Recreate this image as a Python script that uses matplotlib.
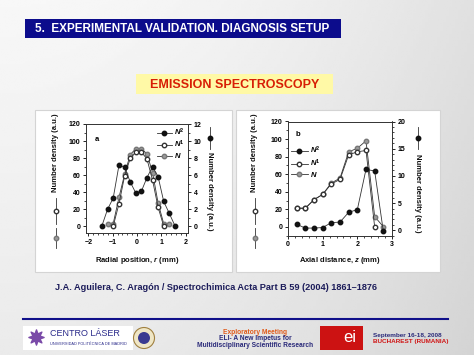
import numpy as np
import matplotlib
matplotlib.use('Agg')
import matplotlib.pyplot as plt
from matplotlib.patches import Rectangle, Circle
from matplotlib.ticker import MultipleLocator

plt.rcParams['font.family'] = ['Liberation Sans', 'DejaVu Sans']
plt.rcParams['mathtext.fontset'] = 'custom'
plt.rcParams['mathtext.rm'] = 'Liberation Sans:bold'
plt.rcParams['mathtext.it'] = 'Liberation Sans:italic:bold'

W, H = 474, 355

# panel a: radial profiles (N2 on right axis)
r_n2 = [-1.45, -1.21, -0.98, -0.74, -0.51, -0.28, -0.05, 0.18, 0.41, 0.64, 0.87, 1.10, 1.33, 1.57]
n2_a = [0, 2.0, 3.3, 7.2, 6.9, 5.2, 3.9, 4.1, 5.7, 7.0, 5.8, 2.9, 1.5, 0]
r_n1 = [-0.98, -0.74, -0.51, -0.28, -0.05, 0.18, 0.41, 0.64, 0.87, 1.10]
n1_a = [0, 26.5, 59, 79.5, 87, 87, 79, 54, 22, 0]
r_n0 = [-1.21, -0.98, -0.74, -0.51, -0.28, -0.05, 0.18, 0.41, 0.64, 0.87, 1.10, 1.33]
n0_a = [2.5, 3, 34, 61, 84, 91, 91, 85, 63, 27, 3, 2.5]

# panel b: axial profiles (N2 on right axis)
z_n2 = [0.25, 0.5, 0.75, 1.0, 1.25, 1.5, 1.75, 2.0, 2.25, 2.5, 2.75]
n2_b = [1.1, 0.4, 0.4, 0.5, 1.4, 1.5, 3.3, 3.8, 11.2, 10.9, -0.2]
z_n1 = [0.25, 0.5, 0.75, 1.0, 1.25, 1.5, 1.75, 2.0, 2.25, 2.5]
n1_b = [21, 21, 31, 37, 49, 54, 82, 85.5, 87, 0]
z_n0 = [0.25, 0.5, 0.75, 1.0, 1.25, 1.5, 1.75, 2.0, 2.25, 2.5, 2.75]
n0_b = [21.5, 21.5, 31, 37, 50, 55.5, 85.5, 89.5, 98, 11.7, 0.3]

labels = ['$N^{2}$', '$N^{1}$', '$N$']

fig = plt.figure(figsize=(4.74, 3.55), dpi=100)

# slide background, drawn in pixel coords
bg = fig.add_axes([0, 0, 1, 1], zorder=-1)
yy, xx = np.mgrid[0:1:120j, 0:1:160j]
shade = 0.97 - 0.09 * xx ** 2 - 0.05 * yy
bg.imshow(shade, cmap='gray', vmin=0, vmax=1, extent=[0, W, H, 0],
          aspect='auto', interpolation='bilinear')
bg.set_xlim(0, W)
bg.set_ylim(H, 0)
bg.axis('off')

bg.add_patch(Rectangle((25, 19), 316, 19, fc='#0c0c8c', ec='none'))
bg.text(35, 28.5, '5.  EXPERIMENTAL VALIDATION. DIAGNOSIS SETUP', color='white',
        fontsize=8.5, fontweight='bold', va='center')
bg.add_patch(Rectangle((136, 74), 197, 20, fc='#fff9a6', ec='none'))
bg.text(234.5, 84.5, 'EMISSION SPECTROSCOPY', color='#d81e05', fontsize=9,
        fontweight='bold', va='center', ha='center')

bg.add_patch(Rectangle((35, 110), 197, 162, fc='white', ec='#d4d4d4', lw=0.8))
bg.add_patch(Rectangle((236, 110), 204, 162, fc='white', ec='#d4d4d4', lw=0.8))

bg.text(55, 288, 'J.A. Aguilera, C. Aragón / Spectrochimica Acta Part B 59 (2004) 1861–1876',
        color='#1c1c5a', fontsize=6.6, fontweight='bold', va='center')

# footer
bg.plot([23, 448], [319, 319], color='#10108a', lw=1.5)
bg.add_patch(Rectangle((23, 326), 110, 24, fc='white', ec='none'))
bg.scatter([36], [337], marker=(8, 1, 0), s=120, color='#7a4aa8')
bg.text(50, 334, 'CENTRO LÁSER', color='#2a2a8a', fontsize=6.5, va='center')
bg.text(50, 344, 'UNIVERSIDAD POLITÉCNICA DE MADRID', color='#2a2a8a', fontsize=2.8, va='center')
bg.add_patch(Circle((144, 338), 10.5, fc='#efe6c6', ec='#a08040', lw=0.8))
bg.add_patch(Circle((144, 338), 6, fc='#3a3a90', ec='none'))
bg.text(255, 332.5, 'Exploratory Meeting', color='#e05a1a', fontsize=4.8,
        fontweight='bold', ha='center', va='center')
bg.text(255, 339, 'ELI- A New Impetus for', color='#2a2a7a', fontsize=4.8,
        fontweight='bold', ha='center', va='center')
bg.text(255, 345.5, 'Multidisciplinary Scientific Research', color='#2a2a7a', fontsize=4.8,
        fontweight='bold', ha='center', va='center')
bg.add_patch(Rectangle((320, 326), 43, 24, fc='#cc1212', ec='none'))
bg.text(350, 337, 'ei', color='white', fontsize=12, ha='center', va='center')
bg.text(373, 335, 'September 16-18, 2008', color='#2a2a7a', fontsize=4.6,
        fontweight='bold', va='center')
bg.text(373, 342, 'BUCHAREST (RUMANIA)', color='#d01818', fontsize=4.6,
        fontweight='bold', va='center')


def style(ax, ax2, xmaj, xmin, ymin, ymin2):
    for a in (ax, ax2):
        for s in a.spines.values():
            s.set_linewidth(0.6)
            s.set_color('#333333')
        a.tick_params(which='major', direction='out', length=2.5, width=0.6,
                      labelsize=5, pad=1.5, top=False)
        a.tick_params(which='minor', direction='out', length=1.4, width=0.5, top=False)
    ax.xaxis.set_major_locator(MultipleLocator(xmaj))
    ax.xaxis.set_minor_locator(MultipleLocator(xmin))
    ax.yaxis.set_minor_locator(MultipleLocator(ymin))
    ax2.yaxis.set_minor_locator(MultipleLocator(ymin2))
    for lab in ax.get_xticklabels() + ax.get_yticklabels() + ax2.get_yticklabels():
        lab.set_fontweight('bold')


line_kw = dict(color='#333333', lw=0.6, ms=3.2)


def draw(ax, ax2, x2, y2, x1, y1, x0, y0):
    h0, = ax.plot(x0, y0, marker='o', mfc='#9a9a9a', mec='#777777', **line_kw)
    h1, = ax.plot(x1, y1, marker='o', mfc='white', mec='#333333', **line_kw)
    h2, = ax2.plot(x2, y2, marker='o', mfc='#111111', mec='#111111', **line_kw)
    return [h2, h1, h0]


# panel a
ax = fig.add_axes([86 / W, 1 - 233 / H, 102 / W, 109 / H])
ax2 = ax.twinx()
hs = draw(ax, ax2, r_n2, n2_a, r_n1, n1_a, r_n0, n0_a)
ax.set_xlim(-2.1, 2.1)
ax.set_ylim(-8, 120)
ax2.set_ylim(-0.8, 12)
ax.set_yticks(range(0, 121, 20))
ax2.set_yticks(range(0, 13, 2))
style(ax, ax2, 1, 0.2, 10, 1)
ax.text(0.09, 0.84, 'a', transform=ax.transAxes, fontsize=5.5, fontweight='bold')
ax.legend(hs, labels, loc='upper right', frameon=False, fontsize=5.5,
          handlelength=2.0, handletextpad=0.3, labelspacing=0.1,
          borderaxespad=0.2, borderpad=0.2)

# panel b
bx = fig.add_axes([288 / W, 1 - 235.7 / H, 104 / W, 114.2 / H])
bx2 = bx.twinx()
hs = draw(bx, bx2, z_n2, n2_b, z_n1, n1_b, z_n0, n0_b)
bx.set_xlim(0, 3)
bx.set_ylim(-10, 120)
bx2.set_ylim(-1, 20)
bx.set_yticks(range(0, 121, 20))
bx2.set_yticks(range(0, 21, 5))
style(bx, bx2, 1, 0.2, 10, 1)
bx.text(0.07, 0.87, 'b', transform=bx.transAxes, fontsize=5.5, fontweight='bold')
bx.legend(hs, labels, loc='upper left', frameon=False, fontsize=5.5,
          handlelength=2.2, handletextpad=0.3, labelspacing=0.15,
          bbox_to_anchor=(0.0, 0.82), borderaxespad=0.2, borderpad=0.2)

# axis titles
lab_kw = dict(fontsize=5.5, fontweight='bold', color='#111111')
bg.text(137, 261, 'Radial position, $r$ (mm)', ha='center', va='center', **lab_kw)
bg.text(340, 261, 'Axial distance, $z$ (mm)', ha='center', va='center', **lab_kw)
for xl, yc, xr, yr in [(56, 153, 210, 191), (255, 153, 418, 193)]:
    bg.text(xl, yc, 'Number density (a.u.)', rotation=90, ha='center', va='center', **lab_kw)
    bg.text(xr, yr, 'Number density (a.u.)', rotation=270, ha='center', va='center', **lab_kw)
    bg.plot([xl, xl], [198, 224], color='#333333', lw=0.6)
    bg.plot([xl], [211], marker='o', mfc='white', mec='#333333', ms=3.2)
    bg.plot([xl, xl], [228, 248], color='#333333', lw=0.6)
    bg.plot([xl], [238], marker='o', mfc='#9a9a9a', mec='#777777', ms=3.2)
    bg.plot([xr, xr], [127, 149], color='#333333', lw=0.6)
    bg.plot([xr], [138], marker='o', mfc='#111111', mec='#111111', ms=3.2)

fig.savefig('out.png', dpi=100)
